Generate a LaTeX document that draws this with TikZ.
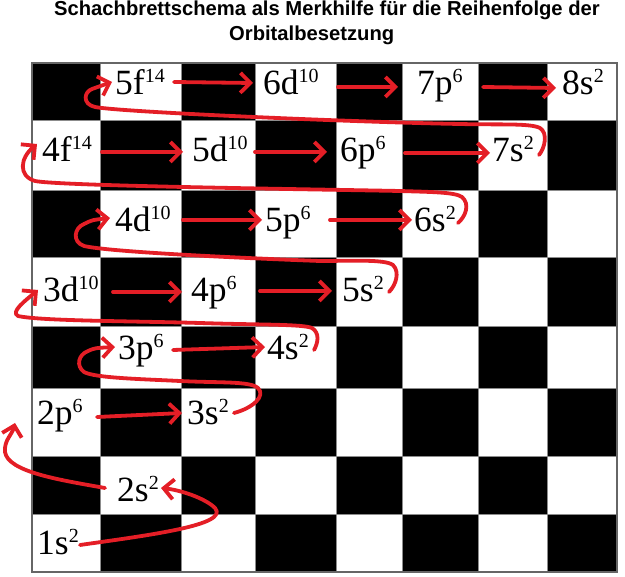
\documentclass[tikz,border=0pt]{standalone}
\usepackage{fontspec}
\setmainfont{Liberation Serif}
\newfontfamily\orbfont{Liberation Serif}
\newfontfamily\ttlfont{Liberation Sans}
\usetikzlibrary{arrows.meta}
\definecolor{myred}{RGB}{228,30,38}
\newcommand\su[1]{\raisebox{12pt}{\fontsize{20}{20}\selectfont #1}}
\begin{document}
\begin{tikzpicture}[x=1pt,y=-1pt,
  orb/.style={anchor=base west,inner sep=0pt,font=\orbfont\fontsize{35.5}{35.5}\selectfont},
  ttl/.style={anchor=base west,inner sep=0pt,font=\ttlfont\bfseries\fontsize{20.2}{20.2}\selectfont},
  arr/.style={draw=myred,line width=3.8pt,line cap=round,line join=round,-{Straight Barb[length=10pt,width=20pt]}},
  gridline/.style={draw=black!45,line width=0.8pt}]
\useasboundingbox (0,0) rectangle (625,577);
\fill[white] (0,0) rectangle (625,577);
% title
\node[ttl] (t1) at (54,16) {Schachbrettschema als Merkhilfe für die Reihenfolge der};
\node[ttl] (t2) at (229,40.5) {Orbitalbesetzung};
% board
\def\xs{{32,100,181,255,336,402,478,547,617}}
\def\ys{{63,120,190,257,326,388,456,514,572}}
\foreach \r in {0,...,7}{
  \foreach \c in {0,...,7}{
    \pgfmathtruncatemacro\k{mod(\r+\c,2)}
    \ifnum\k=0
      \pgfmathsetmacro\xa{\xs[\c]}
      \pgfmathsetmacro\xb{\xs[\c+1]}
      \pgfmathsetmacro\ya{\ys[\r]}
      \pgfmathsetmacro\yb{\ys[\r+1]}
      \fill[black] (\xa,\ya) rectangle (\xb,\yb);
    \fi
  }
}
\foreach \c in {0,...,8}{
  \pgfmathsetmacro\xa{\xs[\c]}
  \draw[gridline] (\xa,63) -- (\xa,572);
}
\foreach \r in {0,...,8}{
  \pgfmathsetmacro\ya{\ys[\r]}
  \draw[gridline] (32,\ya) -- (617,\ya);
}
\draw[draw=black!60,line width=1.2pt] (32,63) rectangle (617,572);
% labels
\node[orb] (n5f) at (115,95) {5f\su{14}};
\node[orb] (n6d) at (263,95) {6d\su{10}};
\node[orb] (n7p) at (417,95) {7p\su{6}};
\node[orb] (n8s) at (562,95) {8s\su{2}};
\node[orb] (n4f) at (42,162) {4f\su{14}};
\node[orb] (n5d) at (192,162) {5d\su{10}};
\node[orb] (n6p) at (340,162) {6p\su{6}};
\node[orb] (n7s) at (492,162) {7s\su{2}};
\node[orb] (n4d) at (115,232) {4d\su{10}};
\node[orb] (n5p) at (265,232) {5p\su{6}};
\node[orb] (n6s) at (414,232) {6s\su{2}};
\node[orb] (n3d) at (43,302) {3d\su{10}};
\node[orb] (n4p) at (191,302) {4p\su{6}};
\node[orb] (n5s) at (342,302) {5s\su{2}};
\node[orb] (n3p) at (118,360) {3p\su{6}};
\node[orb] (n4s) at (267,360) {4s\su{2}};
\node[orb] (n2p) at (37,425) {2p\su{6}};
\node[orb] (n3s) at (187,425) {3s\su{2}};
\node[orb] (n2s) at (117,502) {2s\su{2}};
\node[orb] (n1s) at (37,555) {1s\su{2}};
% straight arrows
\draw[arr] ([shift={(59,-13)}]n5f.base west) -- ([shift={(-10,-12)}]n6d.base west);
\draw[arr] ([shift={(75,-8)}]n6d.base west) -- ([shift={(-19,-8)}]n7p.base west);
\draw[arr] ([shift={(66,-8)}]n7p.base west) -- ([shift={(-6,-7)}]n8s.base west);
\draw[arr] ([shift={(60,-10)}]n4f.base west) -- ([shift={(-9,-10)}]n5d.base west);
\draw[arr] ([shift={(63,-10)}]n5d.base west) -- ([shift={(-13,-10)}]n6p.base west);
\draw[arr] ([shift={(65,-9)}]n6p.base west) -- ([shift={(-2,-9)}]n7s.base west);
\draw[arr] ([shift={(68,-12)}]n4d.base west) -- ([shift={(-3,-12)}]n5p.base west);
\draw[arr] ([shift={(65,-12)}]n5p.base west) -- ([shift={(-2,-12)}]n6s.base west);
\draw[arr] ([shift={(70,-10)}]n3d.base west) -- ([shift={(-9,-10)}]n4p.base west);
\draw[arr] ([shift={(69,-11)}]n4p.base west) -- ([shift={(-10,-11)}]n5s.base west);
\draw[arr] ([shift={(55,-10)}]n3p.base west) -- ([shift={(-2,-13)}]n4s.base west);
\draw[arr] ([shift={(60,-8)}]n2p.base west) -- ([shift={(-5,-12)}]n3s.base west);
% curved arrows
\draw[arr] ([shift={(43,-10)}]n1s.base west) .. controls (150,535) and (230,525) .. (215,508)
  .. controls (205,498) and (180,490) .. ([shift={(44,-14)}]n2s.base west);
\draw[arr] ([shift={(-12,-14)}]n2s.base west) .. controls (60,480) and (8,472) .. (5,452)
  .. controls (4,440) and (12,435) .. ([shift={(-22,-2)}]n2p.base west);
\draw[arr] ([shift={(47,-12)}]n3s.base west) .. controls (253,408) and (266,396) .. (258,388)
  .. controls (250,381) and (220,383) .. (180,381)
  .. controls (140,379) and (95,378) .. (84,372)
  .. controls (76,366) and (78,355) .. (88,351)
  .. controls (95,348) .. ([shift={(-3,-13)}]n3p.base west);
\draw[arr] ([shift={(47,-10)}]n4s.base west) .. controls (318,343) and (320,333) .. (312,328)
  .. controls (302,324) and (260,325) .. (200,323)
  .. controls (130,321) and (40,321) .. (18,316)
  .. controls (10,312) and (26,300) .. ([shift={(-5,-12)}]n3d.base west);
\draw[arr] ([shift={(47,-10)}]n5s.base west) .. controls (396,285) and (400,272) .. (393,265)
  .. controls (385,259) and (350,261) .. (320,261)
  .. controls (240,258) and (110,252) .. (84,246)
  .. controls (72,242) and (74,228) .. (84,224)
  .. controls (92,220) .. ([shift={(-5,-14)}]n4d.base west);
\draw[arr] ([shift={(44,-9)}]n6s.base west) .. controls (466,216) and (470,204) .. (462,197)
  .. controls (455,192) and (430,192) .. (400,191)
  .. controls (300,189) and (60,186) .. (35,181)
  .. controls (18,176) and (20,158) .. ([shift={(-5,-18)}]n4f.base west);
\draw[arr] ([shift={(47,-7)}]n7s.base west) .. controls (545,148) and (548,133) .. (540,128)
  .. controls (530,123) and (500,125) .. (460,124)
  .. controls (350,122) and (120,112) .. (95,107)
  .. controls (82,104) and (84,92) .. (92,89)
  .. controls (100,86) .. ([shift={(-3,-13)}]n5f.base west);
\end{tikzpicture}
\end{document}
